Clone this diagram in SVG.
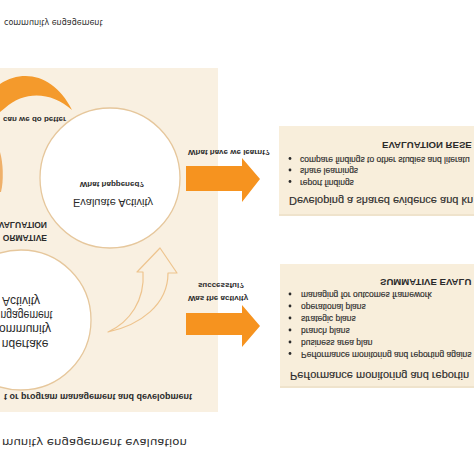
<svg xmlns="http://www.w3.org/2000/svg" width="474" height="474" viewBox="0 0 474 474">
<style>
text{font-family:"Liberation Sans",Arial,sans-serif;fill:#2b2b2b}
.b{font-weight:bold}
.s8{font-size:8px}
.s85{font-size:8.5px}
.s9{font-size:9px}
.s10{font-size:10px}
.s11{font-size:11px}
.s12{font-size:12px}
.dv{font-family:"DejaVu Sans",Verdana,sans-serif}
.m{text-anchor:middle}
.e{text-anchor:end}
.circ{fill:#ffffff;stroke:#e6c79c;stroke-width:1.3}
.box{fill:#f8eedb}
.dot{fill:#2b2b2b}
.orange{fill:#f6931f}
.t{stroke:#2b2b2b;stroke-width:0.15}
</style>
<rect width="474" height="474" fill="#ffffff"/>
<text class="dv" font-size="8" transform="translate(4,20) scale(1,-1)">community engagement</text>

<g id="panel">
<rect x="0" y="68" width="218" height="344" fill="#f9f0e1"/>
<path d="M0,84 C25,68 55,76 72,110 C52,92 25,90 5,108 L0,112 Z" fill="#f49a2c"/>
<path d="M0,152 C3,162 4,180 1,192 L0,192 Z" fill="#efb06a"/>
<text class="b s8" transform="translate(3,117) scale(1,-1)">can we do better</text>
<text class="b s85 e" transform="translate(47,222) scale(1,-1)">VALUATION</text>
<text class="b s85 e" transform="translate(47,235) scale(1,-1)">ORMATIVE</text>
<text class="b s9 e" transform="translate(192,393.5) scale(1,-1)">t or program management and development</text>
</g>

<g id="circle-evaluate">
<circle class="circ" cx="110" cy="178" r="70"/>
<text class="b s8 m" transform="translate(112,181.5) scale(1,-1)">What happened?</text>
<text class="s11 m" transform="translate(113,199) scale(1,-1)">Evaluate Activity</text>
</g>

<g id="circle-undertake">
<circle class="circ" cx="21" cy="320" r="70"/>
<text class="s12 m" transform="translate(21,297) scale(1,-1)">Activity</text>
<text class="s12" textLength="52" lengthAdjust="spacingAndGlyphs" transform="translate(0.5,311) scale(1,-1)">ngagement</text>
<text class="s12 e" transform="translate(51,325) scale(1,-1)">ommunity</text>
<text class="s12 e" transform="translate(48.5,339.5) scale(1,-1)">ndertake</text>
</g>

<g id="box-research">
<rect x="279" y="127" width="195" height="89" fill="#efe3cc"/>
<rect class="box" x="279" y="126" width="195" height="88"/>
<text class="b" font-size="9.6" transform="translate(382,142) scale(1,-1)">EVALUATION RESE</text>
<circle class="dot" cx="290" cy="158.5" r="1.4"/>
<circle class="dot" cx="290" cy="170" r="1.4"/>
<circle class="dot" cx="290" cy="181.5" r="1.4"/>
<text class="s85 t" transform="translate(300,156.5) scale(1,-1)">compare findings to other studies and literatu</text>
<text class="s85 t" transform="translate(300,168) scale(1,-1)">share learnings</text>
<text class="s85 t" transform="translate(300,179.5) scale(1,-1)">report findings</text>
<text class="s11 t" transform="translate(289,197) scale(1,-1)">Developing a shared evidence and kn</text>
</g>

<g id="box-summative">
<rect x="280" y="265" width="194" height="123" fill="#efe3cc"/>
<rect class="box" x="280" y="264" width="194" height="122"/>
<text class="b" font-size="9.6" transform="translate(380,278.5) scale(1,-1)">SUMMATIVE EVALU</text>
<circle class="dot" cx="290" cy="294" r="1.4"/>
<circle class="dot" cx="290" cy="306" r="1.4"/>
<circle class="dot" cx="290" cy="318" r="1.4"/>
<circle class="dot" cx="290" cy="330" r="1.4"/>
<circle class="dot" cx="290" cy="342" r="1.4"/>
<circle class="dot" cx="290" cy="353.5" r="1.4"/>
<text class="s85 t" transform="translate(301,292) scale(1,-1)">managing for outcomes framework</text>
<text class="s85 t" transform="translate(301,304) scale(1,-1)">operational plans</text>
<text class="s85 t" transform="translate(301,316) scale(1,-1)">strategic plans</text>
<text class="s85 t" transform="translate(301,328) scale(1,-1)">branch plans</text>
<text class="s85 t" transform="translate(301,340) scale(1,-1)">business area plan</text>
<text class="s85 t" transform="translate(301,351.5) scale(1,-1)">Performance monitoring and reporting agains</text>
<text class="s11 t" transform="translate(290,371.5) scale(1,-1)">Performance monitoring and reportin</text>
</g>

<g id="connectors">
<path d="M108,332 C130,322 145,300 143,272 L137,272 L160,248 L177,273 L168,273 C168,305 140,325 108,332 Z" fill="none" stroke="#eec48e" stroke-width="1.2" stroke-linejoin="round"/>
<path class="orange" d="M186,166 L242,166 L242,158 L260,179 L242,202 L242,191 L186,191 Z"/>
<path class="orange" d="M186,313 L242,313 L242,305 L260,326 L242,347 L242,335 L186,335 Z"/>
<text class="b s8" transform="translate(188,149.5) scale(1,-1)">What have we learnt?</text>
<text class="b s8 m" transform="translate(218,296) scale(1,-1)">Was the activity</text>
<text class="b s8 m" transform="translate(221,282.5) scale(1,-1)">successful?</text>
</g>

<text class="dv" font-size="11" textLength="185" lengthAdjust="spacingAndGlyphs" transform="translate(2,438.5) scale(1,-1)">munity engagement evaluation</text>
</svg>
